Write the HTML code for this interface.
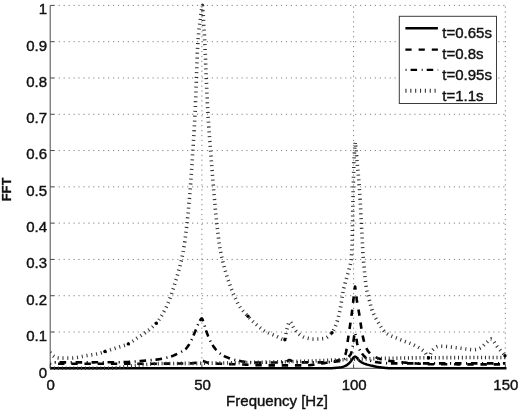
<!DOCTYPE html>
<html><head><meta charset="utf-8"><title>FFT</title>
<style>html,body{margin:0;padding:0;background:#fff}svg{display:block}</style></head>
<body>
<svg width="520" height="410" viewBox="0 0 520 410">
<rect width="520" height="410" fill="#fff"/>
<g stroke="#808080" stroke-width="1" stroke-dasharray="1.2 3.74" fill="none">
<path d="M53.7,332.01 H505.3"/>
<path d="M53.7,295.72 H505.3"/>
<path d="M53.7,259.43 H505.3"/>
<path d="M53.7,223.14 H505.3"/>
<path d="M53.7,186.85 H505.3"/>
<path d="M53.7,150.56 H505.3"/>
<path d="M53.7,114.27 H505.3"/>
<path d="M53.7,77.98 H505.3"/>
<path d="M53.7,41.69 H505.3"/>
<path d="M53.7,5.40 H505.3"/>
<path d="M201.90,368.3 V5.4"/>
<path d="M353.60,368.3 V5.4"/>
<path d="M505.30,368.3 V5.4"/>
</g>
<g stroke="#4a4a4a" stroke-width="1" fill="none">
<path d="M50.2,5.4 V368.3 H505.3"/>
<path d="M50.2,368.30 h4"/>
<path d="M50.2,332.01 h4"/>
<path d="M50.2,295.72 h4"/>
<path d="M50.2,259.43 h4"/>
<path d="M50.2,223.14 h4"/>
<path d="M50.2,186.85 h4"/>
<path d="M50.2,150.56 h4"/>
<path d="M50.2,114.27 h4"/>
<path d="M50.2,77.98 h4"/>
<path d="M50.2,41.69 h4"/>
<path d="M50.2,5.40 h4"/>
<path d="M50.20,368.3 v-4"/>
<path d="M201.90,368.3 v-4"/>
<path d="M353.60,368.3 v-4"/>
<path d="M505.30,368.3 v-4"/>
</g>
<clipPath id="c"><rect x="50.2" y="0" width="456.5" height="370.3"/></clipPath>
<g clip-path="url(#c)" fill="none" stroke="#000" stroke-linejoin="round">
<path d="M50.20,368.20 L51.20,368.20 L52.20,368.20 L53.20,368.20 L54.20,368.20 L55.20,368.20 L56.20,368.20 L57.20,368.20 L58.20,368.20 L59.20,368.20 L60.20,368.20 L61.20,368.20 L62.20,368.20 L63.20,368.20 L64.20,368.20 L65.20,368.20 L66.20,368.20 L67.20,368.20 L68.20,368.20 L69.20,368.20 L70.20,368.20 L71.20,368.20 L72.20,368.20 L73.20,368.20 L74.20,368.20 L75.20,368.20 L76.20,368.20 L77.20,368.20 L78.20,368.20 L79.20,368.20 L80.20,368.20 L81.20,368.20 L82.20,368.20 L83.20,368.20 L84.20,368.20 L85.20,368.20 L86.20,368.20 L87.20,368.20 L88.20,368.20 L89.20,368.20 L90.20,368.20 L91.20,368.20 L92.20,368.20 L93.20,368.20 L94.20,368.20 L95.20,368.20 L96.20,368.20 L97.20,368.20 L98.20,368.20 L99.20,368.20 L100.20,368.20 L101.20,368.20 L102.20,368.20 L103.20,368.20 L104.20,368.20 L105.20,368.20 L106.20,368.20 L107.20,368.20 L108.20,368.20 L109.20,368.20 L110.20,368.20 L111.20,368.20 L112.20,368.20 L113.20,368.20 L114.20,368.20 L115.20,368.20 L116.20,368.20 L117.20,368.20 L118.20,368.20 L119.20,368.20 L120.20,368.20 L121.20,368.20 L122.20,368.20 L123.20,368.20 L124.20,368.20 L125.20,368.20 L126.20,368.20 L127.20,368.20 L128.20,368.20 L129.20,368.20 L130.20,368.20 L131.20,368.20 L132.20,368.20 L133.20,368.20 L134.20,368.20 L135.20,368.20 L136.20,368.20 L137.20,368.20 L138.20,368.20 L139.20,368.20 L140.20,368.20 L141.20,368.20 L142.20,368.20 L143.20,368.20 L144.20,368.20 L145.20,368.20 L146.20,368.20 L147.20,368.20 L148.20,368.20 L149.20,368.20 L150.20,368.20 L151.20,368.20 L152.20,368.20 L153.20,368.20 L154.20,368.20 L155.20,368.20 L156.20,368.20 L157.20,368.20 L158.20,368.20 L159.20,368.20 L160.20,368.20 L161.20,368.20 L162.20,368.20 L163.20,368.20 L164.20,368.20 L165.20,368.20 L166.20,368.20 L167.20,368.20 L168.20,368.20 L169.20,368.20 L170.20,368.20 L171.20,368.20 L172.20,368.20 L173.20,368.20 L174.20,368.20 L175.20,368.20 L176.20,368.20 L177.20,368.20 L178.20,368.20 L179.20,368.20 L180.20,368.20 L181.20,368.20 L182.20,368.20 L183.20,368.20 L184.20,368.20 L185.20,368.20 L186.20,368.20 L187.20,368.20 L188.20,368.20 L189.20,368.20 L190.20,368.20 L191.20,368.20 L192.20,368.20 L193.20,368.20 L194.20,368.20 L195.20,368.20 L196.20,368.20 L197.20,368.20 L198.20,368.20 L199.20,368.20 L200.20,368.20 L201.20,368.20 L202.20,368.20 L203.20,368.20 L204.20,368.20 L205.20,368.20 L206.20,368.20 L207.20,368.20 L208.20,368.20 L209.20,368.20 L210.20,368.20 L211.20,368.20 L212.20,368.20 L213.20,368.20 L214.20,368.20 L215.20,368.20 L216.20,368.20 L217.20,368.20 L218.20,368.20 L219.20,368.20 L220.20,368.20 L221.20,368.20 L222.20,368.20 L223.20,368.20 L224.20,368.20 L225.20,368.20 L226.20,368.20 L227.20,368.20 L228.20,368.20 L229.20,368.20 L230.20,368.20 L231.20,368.20 L232.20,368.20 L233.20,368.20 L234.20,368.20 L235.20,368.20 L236.20,368.20 L237.20,368.20 L238.20,368.20 L239.20,368.20 L240.20,368.20 L241.20,368.20 L242.20,368.20 L243.20,368.20 L244.20,368.20 L245.20,368.20 L246.20,368.20 L247.20,368.20 L248.20,368.20 L249.20,368.20 L250.20,368.20 L251.20,368.20 L252.20,368.20 L253.20,368.20 L254.20,368.20 L255.20,368.20 L256.20,368.20 L257.20,368.20 L258.20,368.20 L259.20,368.20 L260.20,368.20 L261.20,368.20 L262.20,368.20 L263.20,368.20 L264.20,368.20 L265.20,368.20 L266.20,368.20 L267.20,368.20 L268.20,368.20 L269.20,368.20 L270.20,368.20 L271.20,368.20 L272.20,368.20 L273.20,368.20 L274.20,368.20 L275.20,368.20 L276.20,368.20 L277.20,368.20 L278.20,368.20 L279.20,368.20 L280.20,368.20 L281.20,368.20 L282.20,368.20 L283.20,368.20 L284.20,368.20 L285.20,368.20 L286.20,368.20 L287.20,368.20 L288.20,368.20 L289.20,368.20 L290.20,368.20 L291.20,368.20 L292.20,368.20 L293.20,368.20 L294.20,368.20 L295.20,368.20 L296.20,368.20 L297.20,368.20 L298.20,368.20 L299.20,368.20 L300.20,368.20 L301.20,368.20 L302.20,368.20 L303.20,368.20 L304.20,368.20 L305.20,368.20 L306.20,368.20 L307.20,368.20 L308.20,368.20 L309.20,368.20 L310.20,368.20 L311.20,368.20 L312.20,368.20 L313.20,368.20 L314.20,368.20 L315.20,368.20 L316.20,368.20 L317.20,368.20 L318.20,368.20 L319.20,368.20 L320.20,368.20 L321.20,368.20 L322.20,368.20 L323.20,368.20 L324.20,368.20 L325.20,368.20 L326.20,368.20 L327.20,368.20 L328.20,368.20 L329.20,368.20 L330.00,368.20 L330.20,368.20 L331.20,368.19 L332.20,368.15 L333.20,368.10 L334.20,368.03 L335.20,367.95 L336.20,367.85 L337.20,367.75 L338.20,367.63 L339.20,367.50 L340.00,367.40 L340.20,367.37 L341.20,367.20 L342.20,366.96 L343.20,366.68 L344.20,366.34 L345.20,365.94 L346.20,365.50 L347.20,364.89 L348.20,364.06 L349.20,363.09 L350.20,362.10 L350.30,362.00 L351.20,360.91 L352.20,359.41 L353.20,357.95 L354.20,356.91 L355.00,356.60 L355.20,356.62 L356.20,357.14 L357.20,358.17 L358.20,359.43 L359.20,360.61 L360.00,361.30 L360.20,361.43 L361.20,362.04 L362.20,362.60 L363.20,363.09 L364.20,363.54 L365.20,363.93 L365.40,364.00 L366.20,364.27 L367.20,364.59 L368.20,364.87 L369.20,365.14 L370.20,365.39 L371.20,365.62 L372.00,365.80 L372.20,365.84 L373.20,366.07 L374.20,366.28 L375.20,366.49 L376.20,366.69 L377.20,366.87 L378.20,367.04 L379.20,367.19 L380.00,367.30 L380.20,367.32 L381.20,367.45 L382.20,367.58 L383.20,367.70 L384.20,367.82 L385.20,367.92 L386.20,368.02 L387.20,368.10 L388.20,368.16 L389.20,368.19 L390.00,368.20 L390.20,368.20 L391.20,368.20 L392.20,368.20 L393.20,368.20 L394.20,368.20 L395.20,368.20 L396.20,368.20 L397.20,368.20 L398.20,368.20 L399.20,368.20 L400.20,368.20 L401.20,368.20 L402.20,368.20 L403.20,368.20 L404.20,368.20 L405.20,368.20 L406.20,368.20 L407.20,368.20 L408.20,368.20 L409.20,368.20 L410.20,368.20 L411.20,368.20 L412.20,368.20 L413.20,368.20 L414.20,368.20 L415.20,368.20 L416.20,368.20 L417.20,368.20 L418.20,368.20 L419.20,368.20 L420.20,368.20 L421.20,368.20 L422.20,368.20 L423.20,368.20 L424.20,368.20 L425.20,368.20 L426.20,368.20 L427.20,368.20 L428.20,368.20 L429.20,368.20 L430.20,368.20 L431.20,368.20 L432.20,368.20 L433.20,368.20 L434.20,368.20 L435.20,368.20 L436.20,368.20 L437.20,368.20 L438.20,368.20 L439.20,368.20 L440.20,368.20 L441.20,368.20 L442.20,368.20 L443.20,368.20 L444.20,368.20 L445.20,368.20 L446.20,368.20 L447.20,368.20 L448.20,368.20 L449.20,368.20 L450.20,368.20 L451.20,368.20 L452.20,368.20 L453.20,368.20 L454.20,368.20 L455.20,368.20 L456.20,368.20 L457.20,368.20 L458.20,368.20 L459.20,368.20 L460.20,368.20 L461.20,368.20 L462.20,368.20 L463.20,368.20 L464.20,368.20 L465.20,368.20 L466.20,368.20 L467.20,368.20 L468.20,368.20 L469.20,368.20 L470.20,368.20 L471.20,368.20 L472.20,368.20 L473.20,368.20 L474.20,368.20 L475.20,368.20 L476.20,368.20 L477.20,368.20 L478.20,368.20 L479.20,368.20 L480.20,368.20 L481.20,368.20 L482.20,368.20 L483.20,368.20 L484.20,368.20 L485.20,368.20 L486.20,368.20 L487.20,368.20 L488.20,368.20 L489.20,368.20 L490.20,368.20 L491.20,368.20 L492.20,368.20 L493.20,368.20 L494.20,368.20 L495.20,368.20 L496.20,368.20 L497.20,368.20 L498.20,368.20 L499.20,368.20 L500.20,368.20 L501.20,368.20 L502.20,368.20 L503.20,368.20 L504.20,368.20 L505.20,368.20 L506.20,368.20 L506.70,368.20" stroke-width="2.5"/>
<path d="M50.20,363.70 L51.20,363.70 L52.20,363.70 L53.20,363.70 L54.20,363.70 L55.20,363.70 L56.20,363.70 L57.20,363.70 L58.20,363.70 L59.20,363.70 L60.20,363.70 L61.20,363.70 L62.20,363.70 L63.20,363.70 L64.20,363.70 L65.20,363.70 L66.20,363.70 L67.20,363.70 L68.20,363.70 L69.20,363.70 L70.20,363.70 L71.20,363.70 L72.20,363.70 L73.20,363.70 L74.20,363.70 L75.20,363.70 L76.20,363.70 L77.20,363.70 L78.20,363.70 L79.20,363.70 L80.20,363.70 L81.20,363.70 L82.20,363.70 L83.20,363.70 L84.20,363.70 L85.20,363.70 L86.20,363.70 L87.20,363.70 L88.20,363.70 L89.20,363.70 L90.20,363.70 L91.20,363.70 L92.20,363.70 L93.20,363.70 L94.20,363.70 L95.20,363.70 L96.20,363.70 L97.20,363.70 L98.20,363.70 L99.20,363.70 L100.20,363.70 L101.20,363.70 L102.20,363.70 L103.20,363.70 L104.20,363.70 L105.20,363.70 L106.20,363.70 L107.20,363.70 L108.20,363.70 L109.20,363.70 L110.20,363.70 L111.20,363.70 L112.20,363.70 L113.20,363.70 L114.20,363.70 L115.20,363.70 L116.20,363.70 L117.20,363.70 L118.20,363.70 L119.20,363.70 L120.20,363.70 L121.20,363.70 L122.20,363.70 L123.20,363.70 L124.20,363.70 L125.20,363.70 L126.20,363.70 L127.20,363.70 L128.20,363.70 L129.20,363.70 L130.20,363.70 L131.20,363.70 L132.20,363.70 L133.20,363.70 L134.20,363.70 L135.20,363.70 L136.20,363.70 L137.20,363.70 L138.20,363.70 L139.20,363.70 L140.20,363.70 L141.20,363.70 L142.20,363.70 L143.20,363.70 L144.20,363.70 L145.20,363.70 L146.20,363.70 L147.20,363.70 L148.20,363.70 L149.20,363.70 L150.00,363.70 L150.20,363.70 L151.20,363.70 L152.20,363.70 L153.20,363.70 L154.20,363.70 L155.20,363.70 L156.20,363.69 L157.20,363.69 L158.20,363.69 L159.20,363.69 L160.20,363.69 L161.20,363.68 L162.20,363.68 L163.20,363.67 L164.20,363.67 L165.20,363.67 L166.20,363.66 L167.20,363.66 L168.20,363.65 L169.20,363.64 L170.20,363.64 L171.20,363.63 L172.20,363.62 L173.20,363.61 L174.20,363.61 L175.20,363.60 L176.20,363.59 L177.20,363.58 L178.20,363.57 L179.20,363.56 L180.20,363.54 L181.20,363.53 L182.20,363.52 L183.20,363.51 L184.20,363.49 L185.20,363.48 L186.20,363.46 L187.20,363.45 L188.20,363.43 L189.20,363.41 L190.00,363.40 L190.20,363.40 L191.20,363.35 L192.20,363.28 L193.20,363.18 L194.20,363.05 L195.20,362.90 L196.20,362.73 L197.20,362.55 L198.00,362.40 L198.20,362.35 L199.20,361.98 L200.20,361.50 L201.20,361.08 L202.20,360.90 L203.20,361.04 L204.20,361.37 L205.20,361.79 L206.20,362.18 L207.00,362.40 L207.20,362.44 L208.20,362.63 L209.20,362.80 L210.20,362.97 L211.20,363.11 L212.20,363.24 L213.20,363.35 L214.20,363.44 L215.00,363.50 L215.20,363.51 L216.20,363.57 L217.20,363.63 L218.20,363.68 L219.20,363.73 L220.20,363.78 L221.20,363.82 L222.20,363.86 L223.20,363.90 L224.20,363.93 L225.20,363.97 L226.20,364.00 L227.20,364.03 L228.20,364.06 L229.20,364.09 L230.20,364.12 L231.20,364.14 L232.20,364.17 L233.20,364.20 L234.20,364.22 L235.20,364.25 L236.20,364.28 L237.20,364.31 L238.20,364.34 L239.20,364.37 L240.00,364.40 L240.20,364.41 L241.20,364.44 L242.20,364.48 L243.20,364.52 L244.20,364.56 L245.20,364.60 L246.20,364.65 L247.20,364.69 L248.20,364.73 L249.20,364.78 L250.20,364.82 L251.20,364.87 L252.20,364.91 L253.20,364.95 L254.20,365.00 L255.20,365.04 L256.20,365.08 L257.20,365.12 L258.20,365.16 L259.20,365.19 L260.20,365.22 L261.20,365.26 L262.20,365.28 L263.20,365.31 L264.20,365.33 L265.20,365.35 L266.20,365.37 L267.20,365.38 L268.20,365.39 L269.20,365.40 L270.00,365.40 L270.20,365.40 L271.20,365.40 L272.20,365.40 L273.20,365.40 L274.20,365.40 L275.20,365.40 L276.20,365.40 L277.20,365.40 L278.20,365.40 L279.20,365.40 L280.20,365.40 L281.20,365.40 L282.20,365.40 L283.20,365.40 L284.20,365.40 L285.20,365.40 L286.20,365.40 L287.20,365.40 L288.20,365.40 L289.20,365.40 L290.20,365.40 L291.20,365.40 L292.20,365.40 L293.20,365.40 L294.20,365.40 L295.20,365.40 L296.20,365.40 L297.20,365.40 L298.20,365.40 L299.20,365.40 L300.20,365.40 L301.20,365.40 L302.20,365.40 L303.20,365.40 L304.20,365.40 L305.00,365.40 L305.20,365.40 L306.20,365.38 L307.20,365.34 L308.20,365.28 L309.20,365.20 L310.20,365.11 L311.20,365.01 L312.20,364.91 L313.20,364.80 L314.20,364.69 L315.00,364.60 L315.20,364.58 L316.20,364.46 L317.20,364.32 L318.20,364.17 L319.20,364.01 L320.20,363.85 L321.20,363.68 L322.20,363.50 L323.20,363.33 L323.40,363.30 L324.20,363.17 L325.20,363.00 L326.20,362.83 L327.20,362.67 L328.20,362.49 L329.20,362.32 L330.20,362.13 L331.20,361.94 L332.20,361.74 L333.20,361.53 L334.20,361.30 L335.20,361.07 L336.20,360.85 L337.20,360.61 L338.20,360.33 L339.20,360.01 L340.20,359.62 L340.90,359.30 L341.20,359.15 L342.20,358.52 L343.20,357.65 L344.20,356.44 L345.20,354.80 L345.60,354.00 L346.20,351.55 L347.20,344.57 L347.60,341.80 L348.20,337.87 L349.20,331.10 L349.60,328.40 L350.20,324.47 L351.20,317.87 L351.60,315.00 L352.20,310.24 L353.20,301.69 L353.40,300.00 L354.20,291.57 L355.00,286.50 L355.20,286.83 L356.20,294.75 L356.80,300.00 L357.20,302.51 L358.20,308.16 L359.20,313.78 L359.40,315.00 L360.20,320.41 L361.20,327.21 L361.40,328.40 L362.20,332.96 L363.20,338.17 L364.10,341.80 L364.20,342.12 L365.20,345.14 L366.20,347.71 L367.20,349.79 L368.10,351.20 L368.20,351.33 L369.20,352.53 L370.20,353.56 L371.20,354.43 L372.20,355.18 L373.20,355.82 L373.50,356.00 L374.20,356.39 L375.20,356.92 L376.20,357.40 L377.20,357.84 L378.20,358.24 L379.20,358.61 L380.20,358.93 L381.20,359.22 L381.50,359.30 L382.20,359.48 L383.20,359.72 L384.20,359.94 L385.20,360.15 L386.20,360.35 L387.20,360.53 L388.20,360.70 L389.20,360.86 L390.20,361.01 L391.20,361.15 L392.20,361.29 L392.30,361.30 L393.20,361.41 L394.20,361.54 L395.20,361.66 L396.20,361.77 L397.20,361.88 L398.20,361.98 L399.20,362.09 L400.20,362.18 L401.20,362.28 L402.20,362.37 L403.20,362.46 L404.20,362.54 L405.20,362.63 L406.20,362.71 L407.20,362.79 L408.20,362.86 L409.20,362.94 L410.00,363.00 L410.20,363.01 L411.20,363.09 L412.20,363.17 L413.20,363.25 L414.20,363.33 L415.20,363.41 L416.20,363.49 L417.20,363.56 L418.20,363.64 L419.20,363.71 L420.20,363.78 L421.20,363.85 L422.20,363.91 L423.20,363.97 L424.20,364.03 L425.20,364.07 L426.20,364.11 L427.20,364.15 L428.20,364.17 L429.20,364.19 L430.00,364.20 L430.20,364.20 L431.20,364.21 L432.20,364.21 L433.20,364.22 L434.20,364.22 L435.20,364.23 L436.20,364.24 L437.20,364.24 L438.20,364.25 L439.20,364.25 L440.20,364.26 L441.20,364.26 L442.20,364.27 L443.20,364.27 L444.20,364.28 L445.20,364.28 L446.20,364.29 L447.20,364.29 L448.20,364.29 L449.20,364.30 L450.20,364.30 L451.20,364.31 L452.20,364.31 L453.20,364.31 L454.20,364.32 L455.20,364.32 L456.20,364.32 L457.20,364.33 L458.20,364.33 L459.20,364.33 L460.20,364.34 L461.20,364.34 L462.20,364.34 L463.20,364.35 L464.20,364.35 L465.20,364.35 L466.20,364.35 L467.20,364.36 L468.20,364.36 L469.20,364.36 L470.20,364.36 L471.20,364.37 L472.20,364.37 L473.20,364.37 L474.20,364.37 L475.20,364.37 L476.20,364.38 L477.20,364.38 L478.20,364.38 L479.20,364.38 L480.20,364.38 L481.20,364.38 L482.20,364.39 L483.20,364.39 L484.20,364.39 L485.20,364.39 L486.20,364.39 L487.20,364.39 L488.20,364.39 L489.20,364.39 L490.20,364.39 L491.20,364.39 L492.20,364.40 L493.20,364.40 L494.20,364.40 L495.20,364.40 L496.20,364.40 L497.20,364.40 L498.20,364.40 L499.20,364.40 L500.20,364.40 L501.20,364.40 L502.20,364.40 L503.20,364.40 L504.20,364.40 L505.20,364.40 L505.30,364.40" stroke-width="2.6" stroke-dasharray="6.4 6.8" stroke-dashoffset="5.34"/>
<path d="M50.20,362.40 L51.20,362.40 L52.20,362.40 L53.20,362.40 L54.20,362.40 L55.20,362.40 L56.20,362.40 L57.20,362.40 L58.20,362.40 L59.20,362.40 L60.20,362.40 L61.20,362.40 L62.20,362.39 L63.20,362.39 L64.20,362.39 L65.20,362.39 L66.20,362.39 L67.20,362.39 L68.20,362.39 L69.20,362.39 L70.20,362.39 L71.20,362.38 L72.20,362.38 L73.20,362.38 L74.20,362.38 L75.20,362.38 L76.20,362.38 L77.20,362.37 L78.20,362.37 L79.20,362.37 L80.20,362.37 L81.20,362.36 L82.20,362.36 L83.20,362.36 L84.20,362.36 L85.20,362.35 L86.20,362.35 L87.20,362.35 L88.20,362.35 L89.20,362.34 L90.20,362.34 L91.20,362.34 L92.20,362.33 L93.20,362.33 L94.20,362.33 L95.20,362.32 L96.20,362.32 L97.20,362.31 L98.20,362.31 L99.20,362.31 L100.20,362.30 L101.20,362.30 L102.20,362.29 L103.20,362.29 L104.20,362.29 L105.20,362.28 L106.20,362.28 L107.20,362.27 L108.20,362.27 L109.20,362.26 L110.20,362.26 L111.20,362.25 L112.20,362.25 L113.20,362.24 L114.20,362.23 L115.20,362.23 L116.20,362.22 L117.20,362.22 L118.20,362.21 L119.20,362.20 L120.00,362.20 L120.20,362.20 L121.20,362.19 L122.20,362.17 L123.20,362.15 L124.20,362.12 L125.20,362.08 L126.20,362.04 L127.20,362.00 L128.20,361.95 L129.20,361.89 L130.20,361.84 L131.20,361.77 L132.20,361.71 L133.20,361.64 L134.20,361.57 L135.20,361.49 L136.20,361.41 L137.20,361.33 L138.20,361.25 L139.20,361.16 L140.20,361.08 L141.20,360.99 L142.20,360.90 L143.20,360.81 L144.20,360.72 L145.20,360.63 L146.20,360.54 L147.20,360.45 L148.20,360.36 L149.20,360.27 L150.00,360.20 L150.20,360.18 L151.20,360.09 L152.20,360.00 L153.20,359.91 L154.20,359.81 L155.20,359.70 L156.20,359.59 L157.20,359.47 L158.20,359.34 L159.20,359.21 L160.20,359.06 L160.60,359.00 L161.20,358.90 L162.20,358.73 L163.20,358.53 L164.20,358.32 L165.20,358.09 L166.20,357.84 L167.20,357.58 L168.20,357.31 L169.20,357.02 L170.20,356.71 L171.20,356.40 L172.20,356.06 L173.20,355.67 L174.20,355.25 L175.20,354.80 L176.20,354.33 L177.20,353.85 L177.70,353.60 L178.20,353.36 L179.20,352.87 L180.20,352.39 L181.20,351.89 L182.20,351.34 L183.20,350.75 L184.20,350.08 L185.20,349.32 L185.70,348.90 L186.20,348.43 L187.20,347.26 L188.20,345.85 L189.20,344.25 L190.20,342.52 L191.10,340.90 L191.20,340.72 L192.20,338.65 L193.20,336.31 L194.20,333.86 L195.10,331.70 L195.20,331.47 L196.20,328.99 L197.20,326.46 L198.20,324.10 L199.00,322.50 L199.20,322.13 L200.20,320.19 L201.20,318.70 L201.80,318.40 L202.20,318.74 L203.20,321.35 L203.60,322.50 L204.20,324.24 L205.20,327.57 L206.20,330.84 L206.50,331.70 L207.20,333.60 L208.20,336.20 L209.20,338.60 L210.20,340.73 L210.60,341.50 L211.20,342.59 L212.20,344.32 L213.20,345.93 L214.20,347.40 L215.20,348.73 L216.20,349.89 L216.60,350.30 L217.20,350.89 L218.20,351.82 L219.20,352.68 L220.20,353.49 L221.20,354.22 L222.20,354.90 L223.20,355.51 L224.20,356.05 L224.70,356.30 L225.20,356.54 L226.20,356.99 L227.20,357.41 L228.20,357.81 L229.20,358.18 L230.20,358.53 L231.20,358.85 L232.20,359.15 L233.20,359.44 L234.20,359.70 L235.00,359.90 L235.20,359.95 L236.20,360.19 L237.20,360.42 L238.20,360.65 L239.20,360.87 L240.20,361.07 L241.20,361.26 L242.20,361.43 L243.20,361.57 L244.20,361.70 L245.20,361.80 L246.20,361.89 L247.20,361.97 L248.20,362.05 L249.20,362.13 L250.20,362.20 L251.20,362.27 L252.20,362.34 L253.20,362.39 L254.20,362.45 L255.20,362.49 L256.20,362.53 L257.20,362.56 L258.20,362.58 L259.20,362.60 L260.00,362.60 L260.20,362.60 L261.20,362.60 L262.20,362.60 L263.20,362.60 L264.20,362.60 L265.20,362.60 L266.20,362.59 L267.20,362.59 L268.20,362.59 L269.20,362.58 L270.20,362.58 L271.20,362.57 L272.20,362.57 L273.20,362.56 L274.20,362.55 L275.20,362.54 L276.20,362.53 L277.20,362.52 L278.20,362.51 L279.20,362.50 L280.20,362.48 L281.20,362.47 L282.20,362.45 L283.20,362.43 L284.20,362.42 L285.00,362.40 L285.20,362.38 L286.20,361.97 L287.20,361.23 L288.20,360.48 L289.20,360.03 L289.50,360.00 L290.20,360.15 L291.20,360.73 L292.20,361.48 L293.20,362.10 L294.00,362.30 L294.20,362.30 L295.20,362.31 L296.20,362.32 L297.20,362.33 L298.20,362.34 L299.20,362.34 L300.20,362.35 L301.20,362.36 L302.20,362.36 L303.20,362.37 L304.20,362.37 L305.20,362.38 L306.20,362.38 L307.20,362.38 L308.20,362.39 L309.20,362.39 L310.20,362.39 L311.20,362.39 L312.20,362.39 L313.20,362.40 L314.20,362.40 L315.20,362.40 L316.20,362.40 L317.20,362.40 L318.20,362.40 L319.20,362.40 L320.00,362.40 L320.20,362.40 L321.20,362.39 L322.20,362.38 L323.20,362.36 L324.20,362.33 L325.20,362.30 L326.20,362.26 L327.20,362.21 L328.20,362.16 L329.20,362.09 L330.20,362.03 L331.20,361.95 L332.20,361.87 L333.20,361.79 L334.20,361.70 L335.20,361.60 L336.20,361.50 L337.20,361.39 L338.00,361.30 L338.20,361.28 L339.20,361.11 L340.20,360.88 L341.20,360.59 L342.20,360.24 L343.20,359.84 L344.20,359.40 L345.20,358.91 L346.00,358.50 L346.20,358.39 L347.20,357.82 L348.20,357.12 L349.20,356.21 L350.20,354.98 L350.90,353.90 L351.20,353.19 L352.20,348.81 L353.00,344.50 L353.20,343.33 L354.20,335.74 L355.00,332.50 L355.20,332.69 L356.20,337.60 L357.20,343.76 L357.40,344.50 L358.20,346.69 L359.20,348.92 L360.20,350.75 L361.20,352.31 L361.40,352.60 L362.20,353.73 L363.20,355.04 L364.20,356.22 L365.20,357.26 L366.20,358.15 L366.80,358.60 L367.20,358.88 L368.20,359.53 L369.20,360.11 L370.20,360.61 L371.20,361.02 L372.10,361.30 L372.20,361.33 L373.20,361.57 L374.20,361.78 L375.20,361.98 L376.20,362.16 L377.20,362.31 L378.20,362.45 L379.20,362.57 L380.20,362.68 L381.20,362.77 L381.50,362.80 L382.20,362.86 L383.20,362.94 L384.20,363.02 L385.20,363.10 L386.20,363.17 L387.20,363.23 L388.20,363.29 L389.20,363.33 L390.20,363.37 L391.20,363.39 L392.20,363.40 L392.30,363.40 L393.20,363.40 L394.20,363.40 L395.20,363.40 L396.20,363.40 L397.20,363.40 L398.20,363.40 L399.20,363.40 L400.20,363.40 L401.20,363.40 L402.20,363.40 L403.20,363.40 L404.20,363.40 L405.20,363.40 L406.20,363.40 L407.20,363.40 L408.20,363.40 L409.20,363.40 L410.20,363.40 L411.20,363.40 L412.20,363.40 L413.20,363.40 L414.20,363.40 L415.20,363.40 L416.20,363.40 L417.20,363.40 L418.20,363.40 L419.20,363.40 L420.20,363.40 L421.20,363.40 L422.20,363.40 L423.20,363.40 L424.20,363.40 L425.20,363.40 L426.20,363.40 L427.20,363.40 L428.20,363.40 L429.20,363.40 L430.00,363.40 L430.20,363.40 L431.20,363.40 L432.20,363.40 L433.20,363.40 L434.20,363.40 L435.20,363.40 L436.20,363.40 L437.20,363.40 L438.20,363.40 L439.20,363.40 L440.20,363.40 L441.20,363.40 L442.20,363.40 L443.20,363.40 L444.20,363.40 L445.20,363.40 L446.20,363.40 L447.20,363.40 L448.20,363.40 L449.20,363.40 L450.20,363.40 L451.20,363.40 L452.20,363.40 L453.20,363.40 L454.20,363.40 L455.20,363.40 L456.20,363.40 L457.20,363.40 L458.20,363.40 L459.20,363.40 L460.20,363.40 L461.20,363.40 L462.20,363.40 L463.20,363.40 L464.20,363.40 L465.20,363.40 L466.20,363.40 L467.20,363.40 L468.20,363.40 L469.20,363.40 L470.20,363.40 L471.20,363.40 L472.20,363.40 L473.20,363.40 L474.20,363.40 L475.20,363.40 L476.20,363.40 L477.20,363.40 L478.20,363.40 L479.20,363.40 L480.20,363.40 L481.20,363.40 L482.20,363.40 L483.20,363.40 L484.20,363.40 L485.20,363.40 L486.20,363.40 L487.20,363.40 L488.20,363.40 L489.20,363.40 L490.20,363.40 L491.20,363.40 L492.20,363.40 L493.20,363.40 L494.20,363.40 L495.20,363.40 L496.20,363.40 L497.20,363.40 L498.20,363.40 L499.20,363.40 L500.20,363.40 L501.20,363.40 L502.20,363.40 L503.20,363.40 L504.20,363.40 L505.20,363.40 L505.30,363.40" stroke-width="2.6" stroke-dasharray="6.6 4.5 1.1 3.8" stroke-dashoffset="6.64"/>
<path d="M50.20,368.20 L51.20,368.20 L52.20,368.20 L53.20,368.20 L54.20,368.20 L55.20,368.20 L56.20,368.20 L57.20,368.20 L58.20,368.20 L59.20,368.20 L60.20,368.20 L61.20,368.20 L62.20,368.20 L63.20,368.20 L64.20,368.20 L65.20,368.20 L66.20,368.20 L67.20,368.20 L68.20,368.20 L69.20,368.20 L70.20,368.20 L71.20,368.20 L72.20,368.20 L73.20,368.20 L74.20,368.20 L75.20,368.20 L76.20,368.20 L77.20,368.20 L78.20,368.20 L79.20,368.20 L80.20,368.20 L81.20,368.20 L82.20,368.20 L83.20,368.20 L84.20,368.20 L85.20,368.20 L86.20,368.20 L87.20,368.20 L88.20,368.20 L89.20,368.20 L90.20,368.20 L91.20,368.20 L92.20,368.20 L93.20,368.20 L94.20,368.20 L95.20,368.20 L96.20,368.20 L97.20,368.20 L98.20,368.20 L99.20,368.20 L100.20,368.20 L101.20,368.20 L102.20,368.20 L103.20,368.20 L104.20,368.20 L105.20,368.20 L106.20,368.20 L107.20,368.20 L108.20,368.20 L109.20,368.20 L110.00,368.20 L110.20,368.20 L111.20,368.19 L112.20,368.16 L113.20,368.11 L114.20,368.05 L115.20,367.97 L116.20,367.89 L117.20,367.79 L118.20,367.68 L119.20,367.56 L120.20,367.44 L121.20,367.31 L122.20,367.17 L123.20,367.03 L124.20,366.89 L125.20,366.74 L126.20,366.60 L127.20,366.45 L128.20,366.31 L129.20,366.17 L130.20,366.04 L131.20,365.91 L132.20,365.79 L133.20,365.68 L134.20,365.57 L135.00,365.50 L135.20,365.48 L136.20,365.39 L137.20,365.30 L138.20,365.20 L139.20,365.11 L140.20,365.01 L141.20,364.91 L142.20,364.81 L143.20,364.72 L144.20,364.62 L145.20,364.53 L146.20,364.43 L147.20,364.34 L148.20,364.26 L149.20,364.17 L150.20,364.09 L151.20,364.02 L152.20,363.94 L153.20,363.88 L154.20,363.82 L155.20,363.76 L156.20,363.71 L157.20,363.67 L158.20,363.64 L159.20,363.61 L160.00,363.60 L160.20,363.60 L161.20,363.58 L162.20,363.57 L163.20,363.56 L164.20,363.55 L165.20,363.53 L166.20,363.52 L167.20,363.51 L168.20,363.51 L169.20,363.50 L170.20,363.49 L171.20,363.48 L172.20,363.47 L173.20,363.47 L174.20,363.46 L175.20,363.45 L176.20,363.45 L177.20,363.44 L178.20,363.44 L179.20,363.43 L180.20,363.43 L181.20,363.42 L182.20,363.42 L183.20,363.41 L184.20,363.41 L185.20,363.40 L186.20,363.40 L187.20,363.39 L188.20,363.39 L189.20,363.38 L190.20,363.37 L191.20,363.37 L192.20,363.36 L193.20,363.36 L194.20,363.35 L195.20,363.34 L196.20,363.33 L197.20,363.33 L198.20,363.32 L199.20,363.31 L200.00,363.30 L200.20,363.30 L201.20,363.29 L202.20,363.28 L203.20,363.27 L204.20,363.26 L205.20,363.24 L206.20,363.23 L207.20,363.22 L208.20,363.21 L209.20,363.20 L210.20,363.18 L211.20,363.17 L212.20,363.16 L213.20,363.14 L214.20,363.13 L215.20,363.12 L216.20,363.10 L217.20,363.09 L218.20,363.07 L219.20,363.06 L220.20,363.04 L221.20,363.03 L222.20,363.01 L223.20,363.00 L224.20,362.98 L225.20,362.97 L226.20,362.95 L227.20,362.93 L228.20,362.92 L229.20,362.90 L230.20,362.88 L231.20,362.87 L232.20,362.85 L233.20,362.83 L234.20,362.81 L235.00,362.80 L235.20,362.80 L236.20,362.78 L237.20,362.76 L238.20,362.74 L239.20,362.72 L240.20,362.70 L241.20,362.68 L242.20,362.66 L243.20,362.64 L244.20,362.62 L245.20,362.59 L246.20,362.57 L247.20,362.55 L248.20,362.53 L249.20,362.50 L250.20,362.48 L251.20,362.45 L252.20,362.43 L253.20,362.41 L254.20,362.38 L255.20,362.36 L256.20,362.33 L257.20,362.31 L258.20,362.28 L259.20,362.26 L260.20,362.23 L261.20,362.21 L262.20,362.19 L263.20,362.16 L264.20,362.14 L265.20,362.11 L266.20,362.09 L267.20,362.07 L268.20,362.04 L269.20,362.02 L270.00,362.00 L270.20,362.00 L271.20,361.97 L272.20,361.95 L273.20,361.93 L274.20,361.91 L275.20,361.89 L276.20,361.86 L277.20,361.84 L278.20,361.82 L279.20,361.80 L280.20,361.78 L281.20,361.76 L282.20,361.74 L283.20,361.72 L284.20,361.70 L285.20,361.68 L286.20,361.65 L287.20,361.63 L288.20,361.61 L289.20,361.59 L290.20,361.57 L291.20,361.55 L292.20,361.52 L293.20,361.50 L294.20,361.48 L295.20,361.46 L296.20,361.43 L297.20,361.41 L298.20,361.38 L299.20,361.36 L300.20,361.33 L301.20,361.31 L302.20,361.28 L303.20,361.25 L304.20,361.22 L305.00,361.20 L305.20,361.19 L306.20,361.16 L307.20,361.13 L308.20,361.10 L309.20,361.07 L310.20,361.03 L311.20,360.99 L312.20,360.96 L313.20,360.92 L314.20,360.88 L315.20,360.84 L316.20,360.80 L317.20,360.76 L318.20,360.72 L319.20,360.67 L320.20,360.63 L321.20,360.59 L322.20,360.54 L323.20,360.50 L324.20,360.46 L325.20,360.41 L326.20,360.37 L327.20,360.32 L328.20,360.28 L329.20,360.24 L330.20,360.19 L331.20,360.15 L332.20,360.11 L333.20,360.07 L334.20,360.02 L335.20,359.98 L336.20,359.94 L337.20,359.90 L338.20,359.87 L339.20,359.83 L340.00,359.80 L340.20,359.79 L341.20,359.76 L342.20,359.72 L343.20,359.68 L344.20,359.65 L345.20,359.61 L346.20,359.58 L347.20,359.54 L348.20,359.50 L349.20,359.47 L350.20,359.43 L351.20,359.39 L352.20,359.36 L353.20,359.32 L354.20,359.29 L355.20,359.25 L356.20,359.22 L357.20,359.18 L358.20,359.15 L359.20,359.11 L360.20,359.08 L361.20,359.04 L362.20,359.01 L363.20,358.98 L364.20,358.94 L365.20,358.91 L366.20,358.88 L367.20,358.85 L368.20,358.82 L369.20,358.79 L370.20,358.76 L371.20,358.73 L372.20,358.70 L373.20,358.67 L374.20,358.64 L375.20,358.62 L376.20,358.59 L377.20,358.57 L378.20,358.54 L379.20,358.52 L380.00,358.50 L380.20,358.50 L381.20,358.47 L382.20,358.45 L383.20,358.43 L384.20,358.40 L385.20,358.38 L386.20,358.36 L387.20,358.34 L388.20,358.31 L389.20,358.29 L390.20,358.27 L391.20,358.25 L392.20,358.23 L393.20,358.21 L394.20,358.18 L395.20,358.16 L396.20,358.14 L397.20,358.12 L398.20,358.10 L399.20,358.08 L400.20,358.06 L401.20,358.05 L402.20,358.03 L403.20,358.01 L404.20,357.99 L405.20,357.98 L406.20,357.96 L407.20,357.94 L408.20,357.93 L409.20,357.91 L410.20,357.90 L411.20,357.89 L412.20,357.87 L413.20,357.86 L414.20,357.85 L415.20,357.84 L416.20,357.83 L417.20,357.82 L418.20,357.81 L419.20,357.81 L420.00,357.80 L420.20,357.80 L421.20,357.79 L422.20,357.79 L423.20,357.78 L424.20,357.77 L425.20,357.77 L426.20,357.76 L427.20,357.76 L428.20,357.75 L429.20,357.74 L430.20,357.74 L431.20,357.73 L432.20,357.73 L433.20,357.72 L434.20,357.72 L435.20,357.71 L436.20,357.70 L437.20,357.70 L438.20,357.69 L439.20,357.69 L440.20,357.68 L441.20,357.68 L442.20,357.67 L443.20,357.67 L444.20,357.66 L445.20,357.66 L446.20,357.65 L447.20,357.65 L448.20,357.64 L449.20,357.64 L450.20,357.63 L451.20,357.63 L452.20,357.62 L453.20,357.62 L454.20,357.62 L455.20,357.61 L456.20,357.61 L457.20,357.60 L458.20,357.60 L459.20,357.60 L460.20,357.59 L461.20,357.59 L462.20,357.58 L463.20,357.58 L464.20,357.58 L465.20,357.57 L466.20,357.57 L467.20,357.57 L468.20,357.56 L469.20,357.56 L470.20,357.56 L471.20,357.55 L472.20,357.55 L473.20,357.55 L474.20,357.54 L475.20,357.54 L476.20,357.54 L477.20,357.54 L478.20,357.53 L479.20,357.53 L480.20,357.53 L481.20,357.53 L482.20,357.53 L483.20,357.52 L484.20,357.52 L485.20,357.52 L486.20,357.52 L487.20,357.52 L488.20,357.51 L489.20,357.51 L490.20,357.51 L491.20,357.51 L492.20,357.51 L493.20,357.51 L494.20,357.51 L495.20,357.50 L496.20,357.50 L497.20,357.50 L498.20,357.50 L499.20,357.50 L500.20,357.50 L501.20,357.50 L502.20,357.50 L503.20,357.50 L504.20,357.50 L505.20,357.50 L505.30,357.50" stroke-width="3.6" stroke-dasharray="1.05 2.8" stroke="#333"/>
<path d="M50.20,352.20 L51.20,353.74 L52.20,355.03 L53.00,355.80 L53.20,355.96 L54.20,356.67 L55.20,357.23 L56.00,357.50 L56.20,357.55 L57.20,357.75 L58.20,357.90 L59.20,357.99 L59.50,358.00 L60.20,358.02 L61.20,358.05 L62.20,358.07 L63.20,358.09 L64.20,358.10 L65.20,358.10 L65.30,358.10 L66.20,358.10 L67.20,358.09 L68.20,358.07 L69.20,358.05 L70.20,358.02 L71.00,358.00 L71.20,357.99 L72.20,357.95 L73.20,357.88 L74.20,357.79 L75.20,357.68 L76.20,357.57 L76.80,357.50 L77.20,357.45 L78.20,357.29 L79.20,357.10 L80.20,356.90 L81.20,356.68 L82.20,356.48 L82.60,356.40 L83.20,356.28 L84.20,356.09 L85.20,355.89 L86.20,355.69 L87.20,355.50 L88.20,355.33 L88.40,355.30 L89.20,355.18 L90.20,355.05 L91.20,354.92 L92.20,354.79 L93.20,354.66 L94.20,354.50 L95.20,354.32 L96.20,354.11 L97.20,353.89 L98.20,353.65 L98.80,353.50 L99.20,353.40 L100.20,353.11 L101.20,352.81 L102.20,352.48 L103.20,352.15 L104.20,351.82 L104.90,351.60 L105.20,351.51 L106.20,351.19 L107.20,350.87 L108.20,350.55 L109.20,350.23 L110.20,349.91 L111.20,349.59 L112.20,349.27 L113.20,348.94 L114.20,348.62 L115.20,348.29 L116.20,347.96 L117.20,347.63 L117.30,347.60 L118.20,347.31 L119.20,347.00 L120.20,346.70 L121.20,346.40 L122.20,346.10 L123.20,345.79 L124.20,345.47 L125.20,345.13 L126.20,344.77 L127.20,344.37 L128.20,343.94 L128.30,343.90 L129.20,343.46 L130.20,342.89 L131.20,342.25 L132.20,341.57 L133.20,340.86 L134.20,340.14 L135.20,339.41 L136.20,338.71 L136.80,338.30 L137.20,338.03 L138.20,337.38 L139.20,336.73 L140.20,336.09 L141.20,335.44 L142.20,334.79 L143.20,334.12 L144.20,333.44 L145.20,332.73 L146.20,332.00 L146.60,331.70 L147.20,331.24 L148.20,330.48 L149.20,329.71 L150.20,328.92 L151.20,328.10 L152.20,327.25 L153.20,326.36 L154.20,325.41 L155.20,324.39 L156.20,323.31 L156.30,323.20 L157.20,322.14 L158.20,320.84 L159.20,319.44 L160.20,317.94 L161.20,316.35 L162.20,314.68 L163.20,312.93 L164.20,311.11 L164.90,309.80 L165.20,309.23 L166.20,307.21 L167.20,305.04 L168.20,302.73 L169.20,300.29 L170.20,297.73 L171.00,295.60 L171.20,295.05 L172.20,292.07 L173.20,288.86 L173.90,286.60 L174.20,285.64 L175.20,282.43 L176.20,279.17 L177.20,275.82 L178.20,272.36 L178.30,272.00 L179.20,268.78 L180.20,265.07 L181.20,261.08 L181.50,259.80 L182.20,256.69 L183.20,251.70 L183.50,250.00 L184.20,245.63 L185.20,238.48 L186.20,230.44 L187.10,222.60 L187.20,221.70 L188.20,211.98 L189.20,201.11 L190.20,189.20 L190.40,186.70 L191.20,175.89 L192.20,160.90 L192.90,150.00 L193.20,145.37 L194.20,129.72 L195.10,113.50 L195.20,111.42 L196.20,84.27 L197.20,55.36 L197.90,41.50 L198.20,37.74 L199.20,27.88 L200.20,20.23 L200.50,18.00 L201.20,12.05 L202.20,5.74 L202.40,5.50 L203.20,14.82 L203.40,18.00 L204.20,31.74 L204.70,41.50 L205.20,52.12 L206.20,76.08 L207.20,99.71 L207.90,113.50 L208.20,118.46 L209.20,132.99 L210.20,146.05 L210.50,150.00 L211.20,159.25 L212.20,172.09 L213.20,184.34 L213.40,186.70 L214.20,196.05 L215.20,207.38 L216.20,217.85 L216.70,222.60 L217.20,227.13 L218.20,235.81 L219.20,243.59 L220.20,250.00 L221.20,254.86 L222.20,258.98 L222.40,259.80 L223.20,263.06 L224.20,266.97 L225.20,270.62 L225.60,272.00 L226.20,273.99 L227.20,277.15 L228.20,280.15 L229.20,283.02 L230.20,285.79 L230.50,286.60 L231.20,288.48 L232.20,291.08 L233.20,293.54 L234.10,295.60 L234.20,295.82 L235.20,297.99 L236.20,300.10 L237.20,302.11 L238.20,304.00 L239.20,305.74 L240.20,307.30 L241.20,308.69 L242.20,309.97 L243.20,311.16 L244.20,312.28 L245.20,313.36 L246.20,314.41 L247.20,315.45 L248.00,316.30 L248.20,316.51 L249.20,317.58 L250.20,318.65 L251.20,319.69 L252.20,320.72 L253.20,321.72 L254.20,322.68 L255.20,323.61 L256.10,324.40 L256.20,324.49 L257.20,325.34 L258.20,326.18 L259.20,327.01 L260.20,327.81 L261.20,328.58 L262.20,329.33 L263.20,330.03 L264.20,330.69 L265.20,331.30 L265.90,331.70 L266.20,331.86 L267.20,332.38 L268.20,332.85 L269.20,333.30 L270.20,333.72 L271.20,334.13 L272.20,334.53 L273.20,334.92 L274.20,335.32 L275.20,335.73 L275.60,335.90 L276.20,336.17 L277.20,336.67 L278.20,337.22 L279.20,337.78 L280.20,338.32 L281.20,338.82 L282.20,339.24 L283.20,339.56 L284.20,339.76 L284.90,339.80 L285.20,339.20 L286.20,332.70 L286.60,330.50 L287.20,328.15 L288.20,324.46 L289.20,321.98 L289.80,321.50 L290.20,321.62 L291.20,322.80 L292.20,324.73 L293.20,326.79 L293.90,328.00 L294.20,328.44 L295.20,329.96 L296.20,331.41 L297.20,332.62 L297.60,333.00 L298.20,333.51 L299.20,334.30 L300.20,335.04 L301.20,335.70 L302.20,336.30 L303.20,336.81 L304.20,337.24 L305.20,337.59 L305.60,337.70 L306.20,337.86 L307.20,338.11 L308.20,338.34 L309.20,338.56 L310.20,338.75 L311.20,338.90 L312.20,339.01 L313.20,339.08 L314.00,339.10 L314.20,339.10 L315.20,339.09 L316.20,339.07 L317.20,339.03 L318.20,338.99 L319.20,338.93 L320.20,338.86 L321.20,338.78 L322.20,338.69 L323.20,338.59 L324.00,338.50 L324.20,338.47 L325.20,338.22 L326.20,337.77 L327.20,337.16 L328.20,336.41 L329.20,335.53 L330.20,334.55 L331.20,333.49 L332.00,332.60 L332.20,332.36 L333.20,330.90 L334.20,329.01 L335.20,326.76 L336.20,324.21 L337.00,322.00 L337.20,321.41 L338.20,317.94 L339.20,313.74 L340.00,310.00 L340.20,308.99 L341.20,303.10 L342.20,296.79 L342.40,295.60 L343.20,291.00 L344.20,286.71 L345.20,283.02 L345.70,281.20 L346.20,279.40 L347.20,276.01 L348.20,272.52 L348.60,271.00 L349.20,268.83 L350.20,265.09 L351.10,259.90 L351.20,259.08 L352.00,247.00 L352.20,241.73 L352.50,230.00 L352.80,210.00 L353.20,187.00 L354.00,160.00 L354.20,156.00 L355.20,142.46 L355.30,142.30 L356.20,150.33 L356.90,160.00 L357.20,163.27 L358.20,173.82 L359.20,185.65 L359.30,187.00 L360.20,201.08 L361.20,219.27 L361.40,223.00 L362.20,239.28 L362.60,247.00 L363.20,257.10 L363.40,259.90 L364.20,268.62 L364.80,274.40 L365.20,278.69 L366.20,288.00 L367.20,292.14 L368.20,295.40 L369.20,299.42 L370.20,303.62 L371.20,307.49 L372.00,310.00 L372.20,310.53 L373.20,313.00 L374.20,315.19 L375.20,317.17 L376.20,318.98 L377.20,320.68 L378.00,322.00 L378.20,322.33 L379.20,323.98 L380.20,325.62 L381.20,327.21 L382.20,328.71 L383.20,330.09 L384.20,331.31 L385.20,332.34 L386.00,333.00 L386.20,333.14 L387.20,333.82 L388.20,334.43 L389.20,334.99 L390.20,335.49 L391.20,335.96 L392.20,336.39 L393.20,336.79 L394.20,337.19 L395.20,337.57 L396.20,337.95 L397.20,338.34 L398.20,338.75 L398.80,339.00 L399.20,339.17 L400.20,339.59 L401.20,339.98 L402.20,340.37 L403.20,340.74 L404.20,341.11 L405.20,341.48 L406.20,341.85 L407.20,342.22 L408.20,342.60 L409.20,342.99 L410.20,343.40 L411.20,343.83 L412.20,344.28 L413.20,344.75 L413.30,344.80 L414.20,345.24 L415.20,345.73 L416.20,346.22 L417.20,346.73 L418.20,347.26 L419.20,347.82 L420.20,348.43 L421.20,349.08 L422.20,349.80 L423.20,350.58 L424.20,351.44 L424.80,352.00 L425.20,352.49 L426.20,354.31 L427.20,356.33 L428.20,357.66 L428.60,357.80 L429.20,357.30 L430.20,354.92 L431.20,352.08 L432.00,350.60 L432.20,350.40 L433.20,349.43 L434.20,348.54 L435.20,347.76 L436.20,347.11 L437.20,346.62 L438.20,346.31 L439.20,346.20 L440.20,346.21 L441.20,346.24 L442.20,346.28 L443.20,346.33 L444.20,346.40 L445.20,346.48 L446.20,346.57 L447.20,346.67 L448.20,346.77 L449.20,346.88 L450.20,347.00 L451.20,347.11 L452.20,347.23 L453.20,347.34 L454.20,347.46 L455.20,347.57 L456.20,347.67 L456.50,347.70 L457.20,347.77 L458.20,347.89 L459.20,348.02 L460.20,348.16 L461.20,348.31 L462.20,348.46 L463.20,348.62 L464.20,348.77 L465.20,348.92 L466.20,349.07 L467.20,349.20 L468.20,349.33 L469.20,349.44 L470.20,349.54 L471.20,349.61 L472.20,349.67 L473.20,349.69 L473.80,349.70 L474.20,349.69 L475.20,349.60 L476.20,349.42 L477.20,349.16 L478.20,348.84 L479.20,348.46 L480.20,348.05 L481.00,347.70 L481.20,347.60 L482.20,346.90 L483.20,345.93 L484.20,344.84 L485.20,343.76 L486.00,343.00 L486.20,342.82 L487.20,341.84 L488.20,340.80 L489.20,339.87 L490.20,339.22 L491.10,339.00 L491.20,339.00 L492.20,339.48 L493.20,340.57 L494.20,342.05 L495.20,343.69 L496.20,345.26 L496.90,346.20 L497.20,346.56 L498.20,347.74 L499.20,348.92 L500.20,350.08 L501.20,351.23 L502.20,352.37 L503.20,353.49 L504.20,354.60 L505.20,355.69 L505.30,355.80" stroke-width="3.6" stroke-dasharray="1.05 3.8" stroke="#333"/>
</g>
<g fill="#000">
<circle cx="104.9" cy="351.5" r="1.7"/>
<circle cx="128.3" cy="343.9" r="1.7"/>
<circle cx="156.3" cy="323.2" r="1.7"/>
<circle cx="248" cy="316.3" r="1.7"/>
<circle cx="284.9" cy="339.8" r="1.7"/>
<circle cx="332" cy="332.8" r="1.7"/>
<circle cx="428.6" cy="357.8" r="1.7"/>
<circle cx="505" cy="355.8" r="1.7"/>
</g>
<rect x="399.3" y="16.3" width="97.2" height="87.2" fill="#fff" stroke="#3c3c3c" stroke-width="1"/>
<g fill="none" stroke="#000">
<path d="M405.4,28.3 H437.9" stroke-width="2.4"/>
<path d="M405.4,49.6 H437.9" stroke-width="2.3" stroke-dasharray="6.2 7"/>
<path d="M405.6,69.8 H438.2" stroke-width="2.3" stroke-dasharray="0.9 4.1 6.5 4.6"/>
<path d="M405.4,90.8 H436" stroke-width="4" stroke-dasharray="1.1 3.76" stroke="#333"/>
</g>
<g font-family="'Liberation Sans', sans-serif" font-size="14.3" fill="#111" stroke="#111" stroke-width="0.4">
<text transform="translate(442.30,38.30) scale(1.05,1)" text-anchor="start">t=0.65s</text>
<text transform="translate(442.30,59.30) scale(1.05,1)" text-anchor="start">t=0.8s</text>
<text transform="translate(442.30,80.30) scale(1.05,1)" text-anchor="start">t=0.95s</text>
<text transform="translate(442.30,101.30) scale(1.05,1)" text-anchor="start">t=1.1s</text>
<text transform="translate(47.00,378.40) scale(1.05,1)" text-anchor="end">0</text>
<text transform="translate(47.00,340.91) scale(1.05,1)" text-anchor="end">0.1</text>
<text transform="translate(47.00,304.62) scale(1.05,1)" text-anchor="end">0.2</text>
<text transform="translate(47.00,268.33) scale(1.05,1)" text-anchor="end">0.3</text>
<text transform="translate(47.00,232.04) scale(1.05,1)" text-anchor="end">0.4</text>
<text transform="translate(47.00,195.75) scale(1.05,1)" text-anchor="end">0.5</text>
<text transform="translate(47.00,159.46) scale(1.05,1)" text-anchor="end">0.6</text>
<text transform="translate(47.00,123.17) scale(1.05,1)" text-anchor="end">0.7</text>
<text transform="translate(47.00,86.88) scale(1.05,1)" text-anchor="end">0.8</text>
<text transform="translate(47.00,50.59) scale(1.05,1)" text-anchor="end">0.9</text>
<text transform="translate(47.00,14.30) scale(1.05,1)" text-anchor="end">1</text>
<text transform="translate(50.80,389.80) scale(1.05,1)" text-anchor="middle">0</text>
<text transform="translate(202.50,389.80) scale(1.05,1)" text-anchor="middle">50</text>
<text transform="translate(354.20,389.80) scale(1.05,1)" text-anchor="middle">100</text>
<text transform="translate(505.90,389.80) scale(1.05,1)" text-anchor="middle">150</text>
<text transform="translate(277.00,405.80) scale(1.05,1)" text-anchor="middle">Frequency [Hz]</text>
<text transform="translate(11.3,189.5) rotate(-90) scale(1.03,1)" text-anchor="middle" font-weight="bold" font-size="12.5" stroke-width="0.3">FFT</text>
</g>
</svg>
</body></html>
